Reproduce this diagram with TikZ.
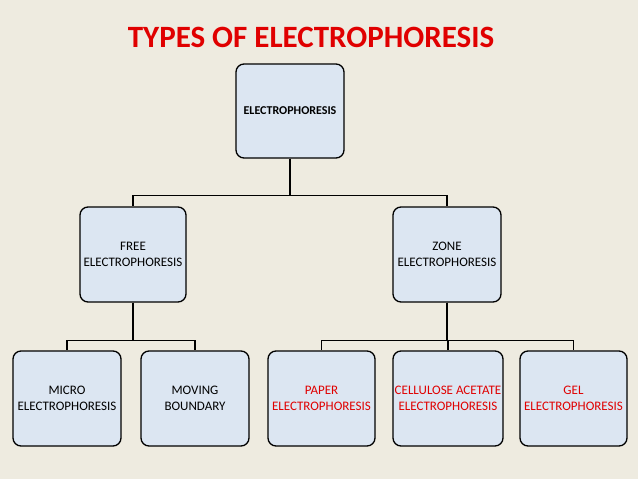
\documentclass[tikz,border=0pt]{standalone}
\usepackage{fontspec}
\setmainfont{Carlito}
\begin{document}
\begin{tikzpicture}[x=1pt,y=-1pt,
 box/.style={draw=black,line width=1.3pt,rounded corners=8pt,fill=boxc,align=center,font=\fontsize{13}{16}\selectfont,inner sep=0pt},
 ln/.style={line width=1.3pt}]
\definecolor{boxc}{HTML}{DCE6F2}
\definecolor{bg}{HTML}{EEEBE0}
\definecolor{tred}{HTML}{E00000}
\fill[bg] (0,0) rectangle (638,479);
\useasboundingbox (0,0) rectangle (638,479);
\node[font=\bfseries\fontsize{31}{36}\selectfont,text=tred] (t) at (311,37) {TYPES OF ELECTROPHORESIS};
\node[box,minimum width=108pt,minimum height=94pt,font=\bfseries\fontsize{12}{15}\selectfont] (r) at (290,111) {ELECTROPHORESIS};
\node[box,minimum width=106pt,minimum height=95pt] (f) at (133,254.5) {FREE\\ELECTROPHORESIS};
\node[box,minimum width=108pt,minimum height=95pt] (z) at (447,254.5) {ZONE\\ELECTROPHORESIS};
\node[box,minimum width=108pt,minimum height=95pt] (m) at (67,398.5) {MICRO\\ELECTROPHORESIS};
\node[box,minimum width=108pt,minimum height=95pt] (mb) at (195,398.5) {MOVING\\BOUNDARY};
\node[box,minimum width=107pt,minimum height=95pt,text=tred] (p) at (321.5,398.5) {PAPER\\ELECTROPHORESIS};
\node[box,minimum width=110pt,minimum height=95pt,text=tred] (c) at (448,398.5) {CELLULOSE ACETATE\\ELECTROPHORESIS};
\node[box,minimum width=107pt,minimum height=95pt,text=tred] (g) at (573.5,398.5) {GEL\\ELECTROPHORESIS};
\draw[ln] (r.south) -- ++(0,37) -| (f.north);
\draw[ln] (r.south) -- ++(0,37) -| (z.north);
\draw[ln] (f.south) -- ++(0,38) -| (m.north);
\draw[ln] (f.south) -- ++(0,38) -| (mb.north);
\draw[ln] (z.south) -- ++(0,38) -| (p.north);
\draw[ln] (z.south) -- ++(0,38) -| (c.north);
\draw[ln] (z.south) -- ++(0,38) -| (g.north);
\end{tikzpicture}
\end{document}
